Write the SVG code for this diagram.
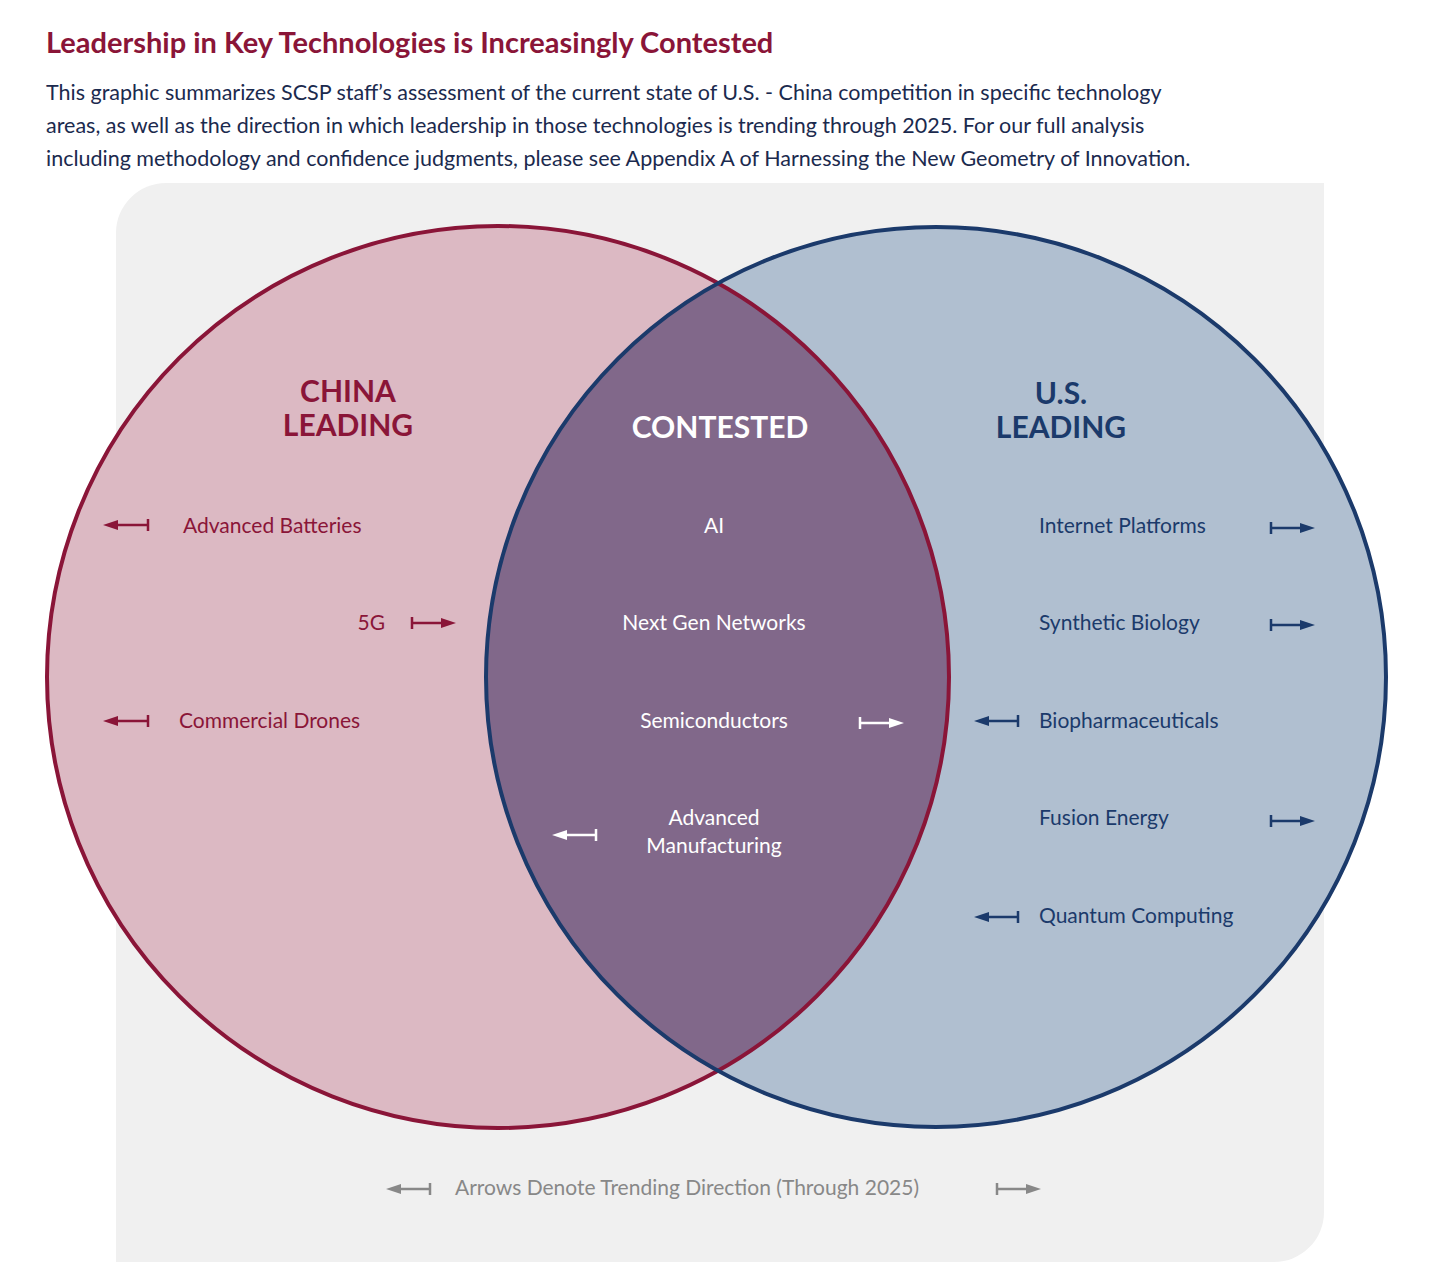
<svg xmlns="http://www.w3.org/2000/svg" width="1456" height="1288" viewBox="0 0 1456 1288">
<style>
text{font-family:Lato,"Noto Sans",sans-serif}
.t{font-size:21px}
.r{fill:#8a1538}.b{fill:#1b3a6b}.w{fill:#fff}
.h{font-size:30px;font-weight:bold}
.ar{stroke-width:2.5;fill:none}
</style>
<defs>
<clipPath id="cl"><circle cx="498" cy="677" r="451"/></clipPath>
</defs>
<rect width="1456" height="1288" fill="#fff"/>
<text x="46" y="53" font-size="29" font-weight="bold" fill="#8a1538">Leadership in Key Technologies is Increasingly Contested</text>
<g font-size="21.5" fill="#1b2a4e">
<text x="46" y="100">This graphic summarizes SCSP staff’s assessment of the current state of U.S. - China competition in specific technology</text>
<text x="46" y="133">areas, as well as the direction in which leadership in those technologies is trending through 2025. For our full analysis</text>
<text x="46" y="166">including methodology and confidence judgments, please see Appendix A of Harnessing the New Geometry of Innovation.</text>
</g>
<path d="M166 183H1324V1212A50 50 0 0 1 1274 1262H116V233A50 50 0 0 1 166 183Z" fill="#f0f0f0"/>
<g id="china"><circle cx="498" cy="677" r="451" fill="#dcb9c3"/></g>
<g id="us"><circle cx="936" cy="677" r="450" fill="#b0bfd0"/></g>
<g id="contested"><circle cx="936" cy="677" r="450" fill="#81688a" clip-path="url(#cl)"/></g>
<circle cx="498" cy="677" r="451" fill="none" stroke="#8a1538" stroke-width="4"/>
<circle cx="936" cy="677" r="450" fill="none" stroke="#1b3a6b" stroke-width="4"/>
<g text-anchor="middle" class="h">
<text x="348" y="402" class="r">CHINA</text><text x="348" y="436" class="r">LEADING</text>
<text x="720" y="438" class="w">CONTESTED</text>
<text x="1061" y="404" class="b">U.S.</text><text x="1061" y="438" class="b">LEADING</text>
</g>
<g class="t">
<text x="183" y="533" class="r">Advanced Batteries</text>
<text x="385" y="630" class="r" text-anchor="end">5G</text>
<text x="179" y="728" class="r">Commercial Drones</text>
<g class="w" text-anchor="middle">
<text x="714" y="533">AI</text>
<text x="714" y="630">Next Gen Networks</text>
<text x="714" y="728">Semiconductors</text>
<text x="714" y="825">Advanced</text>
<text x="714" y="853">Manufacturing</text>
</g>
<g class="b">
<text x="1039" y="533">Internet Platforms</text>
<text x="1039" y="630">Synthetic Biology</text>
<text x="1039" y="728">Biopharmaceuticals</text>
<text x="1039" y="825">Fusion Energy</text>
<text x="1039" y="923">Quantum Computing</text>
</g>
<text x="455" y="1195" fill="#888">Arrows Denote Trending Direction (Through 2025)</text>
</g>
<g id="connectors">
<!-- left arrows: bar at x1, head at x2 -->
<g stroke="#8a1538" fill="#8a1538">
<path class="ar" d="M148 519v12M148 525H115"/><path d="M103 525l15-5v10z" stroke="none"/>
<path class="ar" d="M148 715v12M148 721H115"/><path d="M103 721l15-5v10z" stroke="none"/>
<path class="ar" d="M412 617v12M412 623H444"/><path d="M456 623l-15-5v10z" stroke="none"/>
</g>
<g stroke="#fff" fill="#fff">
<path class="ar" d="M860 717v12M860 723H892"/><path d="M904 723l-15-5v10z" stroke="none"/>
<path class="ar" d="M596 829v12M596 835H564"/><path d="M552 835l15-5v10z" stroke="none"/>
</g>
<g stroke="#1b3a6b" fill="#1b3a6b">
<path class="ar" d="M1271 522v12M1271 528H1303"/><path d="M1315 528l-15-5v10z" stroke="none"/>
<path class="ar" d="M1271 619v12M1271 625H1303"/><path d="M1315 625l-15-5v10z" stroke="none"/>
<path class="ar" d="M1271 815v12M1271 821H1303"/><path d="M1315 821l-15-5v10z" stroke="none"/>
<path class="ar" d="M1018 715v12M1018 721H986"/><path d="M974 721l15-5v10z" stroke="none"/>
<path class="ar" d="M1018 911v12M1018 917H986"/><path d="M974 917l15-5v10z" stroke="none"/>
</g>
<g stroke="#888" fill="#888">
<path class="ar" d="M430 1183v12M430 1189H398"/><path d="M386 1189l15-5v10z" stroke="none"/>
<path class="ar" d="M997 1183v12M997 1189H1029"/><path d="M1041 1189l-15-5v10z" stroke="none"/>
</g>
</g>
</svg>
